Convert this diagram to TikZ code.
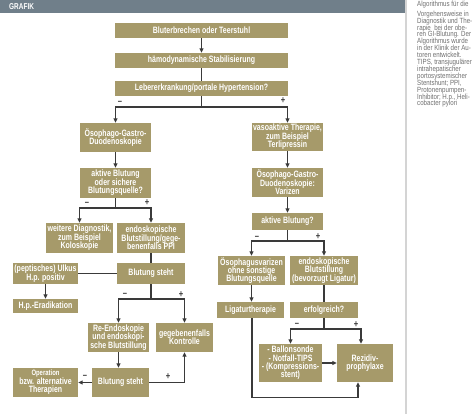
\documentclass[tikz,border=0pt]{standalone}
\usepackage{fontspec}
\setmainfont{Liberation Sans}
\newfontfamily\bxfont{Liberation Sans}[FakeStretch=0.76]
\newfontfamily\capfont{Liberation Sans}[FakeStretch=0.82]
\usetikzlibrary{arrows.meta}
\definecolor{boxc}{RGB}{166,154,106}
\definecolor{linec}{RGB}{58,58,58}
\definecolor{headc}{RGB}{112,127,138}
\definecolor{capc}{RGB}{112,112,112}
\definecolor{sepc}{RGB}{212,212,212}
\newcommand\tightlns{\lineskiplimit=-20pt\relax\lineskip=0pt\relax}
\newcommand\mybox[6]{\node[bx, minimum width={#3pt-#2pt}, minimum height={#5pt-#4pt}] (#1) at ({(#2+#3)/2},{(#4+#5)/2}) {#6};}
\begin{document}
\begin{tikzpicture}[x=1pt,y=-1pt,
  bx/.style={fill=boxc, text=white, font=\bxfont\bfseries\fontsize{9.2}{8.4}\selectfont\tightlns, align=center, inner sep=0pt},
  ln/.style={draw=linec, line width=1.2pt},
  arr/.style={ln, -{Triangle[length=4.5pt,width=4pt]}},
  sg/.style={text=linec, font=\bxfont\bfseries\fontsize{10}{10}\selectfont, inner sep=0pt},
  captxt/.style={text=capc, font=\capfont\fontsize{7.5}{6.9}\selectfont\tightlns, align=left, inner sep=0pt, anchor=north west}]
\useasboundingbox (0,0) rectangle (474,414);
\fill[white] (0,0) rectangle (474,414);
% header
\fill[headc] (0,0) rectangle (405,13);
\node[text=white, font=\bxfont\bfseries\fontsize{8.5}{8.5}\selectfont, inner sep=0pt, anchor=west] (grafik) at (9,6.8) {GRAFIK};
\draw[sepc, line width=1.6pt] (406,0) -- (406,414);
% caption
\node[captxt] (cap1) at (417,1.2) {Algorithmus für die};
\node[captxt] (cap2) at (417,10.6) {Vorgehensweise in\\Diagnostik und The-\\rapie\ \ bei der obe-\\ren GI-Blutung. Der\\Algorithmus wurde\\in der Klinik der Au-\\toren entwickelt.\\TIPS, transjugulärer\\intrahepatischer\\portosystemischer\\Stentshunt; PPI,\\Protonenpumpen-\\Inhibitor; H.p., Heli-\\cobacter pylori};
% boxes
\mybox{b1}{115}{288}{23}{38}{Bluterbrechen oder Teerstuhl}
\mybox{b2}{115}{288}{53}{68}{hämodynamische Stabilisierung}
\mybox{b3}{115}{288}{81}{96}{Lebererkrankung/portale Hypertension?}
\mybox{ogd}{80}{151}{123}{152}{Ösophago-Gastro-\\Duodenoskopie}
\mybox{akt}{80}{151}{168}{198}{aktive Blutung\\oder sichere\\Blutungsquelle?}
\mybox{wd}{46}{113}{223}{253}{weitere Diagnostik,\\zum Beispiel\\Koloskopie}
\mybox{eb}{117}{185}{223}{253}{endoskopische\\Blutstillung/gege-\\benenfalls PPI}
\mybox{bs1}{117}{185}{263}{284}{Blutung steht}
\mybox{ulk}{13}{78}{263}{284}{(peptisches) Ulkus\\H.p. positiv}
\mybox{hpe}{13}{78}{299}{313}{H.p.-Eradikation}
\mybox{reendo}{88}{149}{323}{352}{Re-Endoskopie\\und endoskopi-\\sche Blutstillung}
\mybox{kon}{156}{213}{323}{352}{gegebenenfalls\\Kontrolle}
\mybox{bs2}{92}{149}{368}{397}{Blutung steht}
\mybox{op}{13}{78}{368}{397}{{\fontsize{7.8}{8.4}\selectfont Operation}\\bzw. alternative\\Therapien}
\mybox{vaso}{252}{323}{123}{151}{vasoaktive Therapie,\\zum Beispiel\\Terlipressin}
\mybox{ogdv}{252}{323}{168}{197}{Ösophago-Gastro-\\Duodenoskopie:\\Varizen}
\mybox{aktb}{252}{323}{213}{230}{aktive Blutung?}
\mybox{ov}{218}{285}{256}{285}{Ösophagusvarizen\\ohne sonstige\\Blutungsquelle}
\mybox{ebl}{290}{358}{256}{285}{endoskopische\\Blutstillung\\(bevorzugt Ligatur)}
\mybox{lig}{217}{284}{302}{318}{Ligaturtherapie}
\mybox{erf}{290}{358}{302}{318}{erfolgreich?}
\mybox{bal}{259}{322}{344}{382}{- Ballonsonde\\- Notfall-TIPS\\- (Kompressions-\\stent)}
\mybox{rez}{337}{393}{344}{382}{Rezidiv-\\prophylaxe}
% junction coordinates
\coordinate (j1) at (201.5,107);
\coordinate (j2) at (115.5,208);
\coordinate (j3) at (151,299);
\coordinate (j4) at (287.5,241);
\coordinate (j5) at (324,329);
\coordinate (rzt) at ([xshift=-4pt]rez.north);
\coordinate (rzb) at ([xshift=-7pt]rez.south);
\coordinate (lgb) at ([xshift=1.5pt]lig.south);
% connectors
\draw[arr] (b1) -- (b2);
\draw[ln] (b2) -- (b3);
\draw[ln] (b3.south) -- (j1);
\draw[arr] (j1) -| (ogd);
\draw[arr] (j1) -| (vaso);
\node[sg] (m1) at (120,103) {–};
\node[sg] (p1) at (283,101) {+};
\draw[arr] (ogd) -- (akt);
\draw[ln] (akt.south) -- (j2);
\draw[arr] (j2) -| (wd);
\draw[arr] (j2) -| (eb);
\node[sg] (m2) at (87,203.5) {–};
\node[sg] (p2) at (147,202.5) {+};
\draw[ln] (eb) -- (bs1);
\draw[ln] (ulk) -- (bs1);
\draw[arr] (ulk) -- (hpe);
\draw[ln] (bs1.south) -- (j3);
\draw[arr] (j3) -| (reendo);
\draw[arr] (j3) -| (kon);
\node[sg] (m3) at (125,295) {–};
\node[sg] (p3) at (181,294.5) {+};
\draw[arr] (reendo.south) -- (reendo.south |- bs2.north);
\draw[arr] (bs2) -- (op);
\node[sg] (m4) at (85,377) {–};
\draw[arr] (bs2.east) -| (kon.south);
\node[sg] (p4) at (168,377) {+};
\draw[arr] (vaso) -- (ogdv);
\draw[arr] (ogdv) -- (aktb);
\draw[ln] (aktb.south) -- (j4);
\draw[arr] (j4) -| (ov);
\draw[arr] (j4) -| (ebl);
\node[sg] (m5) at (257,237.5) {–};
\node[sg] (p5) at (318,237) {+};
\draw[arr] (ov.south) -- (ov.south |- lig.north);
\draw[ln] (ebl) -- (erf);
\draw[ln] (erf.south) -- (j5);
\draw[arr] (j5) -| (bal);
\draw[arr] (j5) -| (rzt);
\node[sg] (m6) at (297,325) {–};
\node[sg] (p6) at (356,324.5) {+};
\draw[arr] (bal) -- (rez);
\draw[arr] (lgb) -- ++(0,79) -| (rzb);
\end{tikzpicture}
\end{document}
